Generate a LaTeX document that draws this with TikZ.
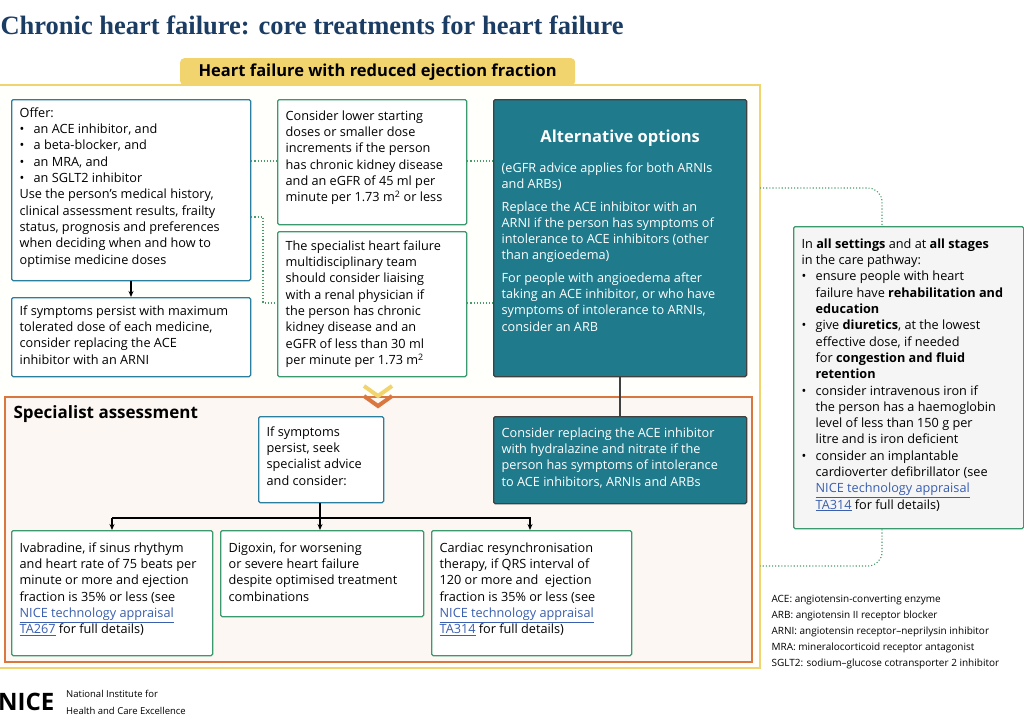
\documentclass[tikz,border=0pt]{standalone}
\usepackage{fontspec}
\setmainfont{Open Sans}
\newfontfamily\serifT{Liberation Serif}
\usetikzlibrary{arrows.meta}
\definecolor{bluebd}{HTML}{2A7F9E}
\definecolor{greenbd}{HTML}{3A9A6E}
\definecolor{teal}{HTML}{1F7A8C}
\definecolor{orangebd}{HTML}{D9773E}
\definecolor{yel}{HTML}{F2D46E}
\definecolor{titleblue}{HTML}{1B3C63}
\definecolor{linkc}{HTML}{3A5FAE}
\definecolor{dotg}{HTML}{4A9A6A}
\newcommand\bxt[3]{\parbox[c][#2pt][t]{#1pt}{\raggedright #3}}
\newcommand\bl{\makebox[14pt][l]{•}}
\newcommand\ind{\hspace*{14pt}}
\newcommand\lnk[1]{\textcolor{linkc}{\underline{#1}}}
\tikzset{
 x=1pt,y=-1pt,
 every node/.style={font=\fontsize{12.7}{16.3}\selectfont},
 box/.style={draw, line width=1.3pt, fill=white, inner xsep=8pt, inner ysep=8pt, anchor=north west, rounded corners=1.5pt},
 bbox/.style={box, draw=bluebd},
 gbox/.style={box, draw=greenbd},
 tbox/.style={box, draw=black!75, fill=teal, text=white},
 dotl/.style={dotg, line width=1.1pt, dotted},
 arr/.style={-{Stealth[length=6pt,width=5pt]}, line width=1.1pt}
}
\begin{document}
\begin{tikzpicture}
\useasboundingbox (0,0) rectangle (1024,725);
\node[anchor=west, text=titleblue, font=\serifT\bfseries\fontsize{26.5}{29}\selectfont] (title) at (-3,25) {Chronic heart failure: core treatments for heart failure};
% yellow frame
\draw[yel, line width=1.5pt, fill=white!97!yellow!50] (-4,85) rectangle (760,668);
\coordinate (fr1) at (760,188);
\coordinate (fr2) at (760,566);
\node[fill=yel, rounded corners=4pt, anchor=north west, minimum width=395, minimum height=27, font=\bfseries\fontsize{16.5}{19}\selectfont] (tab) at (180,58) {Heart failure with reduced ejection fraction};
% specialist frame
\draw[orangebd, line width=1.3pt, fill=orangebd!6] (5,397) rectangle (752,662);
\node[anchor=west, font=\bfseries\fontsize{17}{20}\selectfont] (spec) at (10,414) {Specialist assessment};
% chevron
\draw[yel, line width=4pt] (364,386) -- (378,396) -- (392,386);
\draw[orangebd, line width=4pt] (364,396) -- (378,406) -- (392,396);
% boxes
\node[bbox] (A) at (11,99) {\bxt{223}{165}{Offer:\\
\bl an ACE inhibitor, and\\
\bl a beta-blocker, and\\
\bl an MRA, and\\
\bl an SGLT2 inhibitor\\
Use the person’s medical history,\\ clinical assessment results, frailty\\ status, prognosis and preferences\\ when deciding when and how to\\ optimise medicine doses}};
\node[bbox] (B) at (11,297) {\bxt{223}{63}{If symptoms persist with maximum\\ tolerated dose of each medicine,\\ consider replacing the ACE\\ inhibitor with an ARNI}};
\node[gbox] (C) at (277,99) {\bxt{173}{109}{\vspace*{3pt}Consider lower starting\\ doses or smaller dose\\ increments if the person\\ has chronic kidney disease\\ and an eGFR of 45 ml per\\ minute per 1.73 m\textsuperscript{2} or less}};
\node[gbox] (D) at (277,231) {\bxt{173}{129}{\vspace*{1pt}The specialist heart failure\\ multidisciplinary team\\ should consider liaising\\ with a renal physician if\\ the person has chronic\\ kidney disease and an\\ eGFR of less than 30 ml\\ per minute per 1.73 m\textsuperscript{2}}};
\node[tbox] (alt) at (493,99) {\bxt{237}{261}{\vspace*{22pt}\centerline{\bfseries\fontsize{16.5}{19}\selectfont Alternative options}\par\vspace{14pt}
(eGFR advice applies for both ARNIs\\ and ARBs)\par\vspace{6pt}
Replace the ACE inhibitor with an\\ ARNI if the person has symptoms of\\ intolerance to ACE inhibitors (other\\ than angioedema)\par\vspace{6pt}
For people with angioedema after\\ taking an ACE inhibitor, or who have\\ symptoms of intolerance to ARNIs,\\ consider an ARB}};
\node[tbox] (hyd) at (493,416) {\bxt{237}{71}{\vspace*{3pt}Consider replacing the ACE inhibitor\\ with hydralazine and nitrate if the\\ person has symptoms of intolerance\\ to ACE inhibitors, ARNIs and ARBs}};
\node[bbox] (sym) at (258,416) {\bxt{109}{70}{\vspace*{2pt}If symptoms\\ persist, seek\\ specialist advice\\ and consider:}};
\node[gbox] (E) at (11,530) {\bxt{185}{109}{\vspace*{4pt}Ivabradine, if sinus rhythym\\ and heart rate of 75 beats per\\ minute or more and ejection\\ fraction is 35\% or less (see\\ \lnk{NICE technology appraisal}\\ \lnk{TA267} for full details)}};
\node[gbox] (F) at (220,530) {\bxt{187}{70}{\vspace*{4pt}Digoxin, for worsening\\ or severe heart failure\\ despite optimised treatment\\ combinations}};
\node[gbox] (G) at (431,530) {\bxt{184}{109}{\vspace*{4pt}Cardiac resynchronisation\\ therapy, if QRS interval of\\ 120 or more and\ \ ejection\\ fraction is 35\% or less (see\\ \lnk{NICE technology appraisal}\\ \lnk{TA314} for full details)}};
\node[box, draw=greenbd, fill=black!4] (R) at (793,226) {\bxt{214}{286}{\vspace*{4pt}In \textbf{all settings} and at \textbf{all stages}\\ in the care pathway:\\
\bl ensure people with heart\\ \ind failure have \textbf{rehabilitation and}\\ \ind \textbf{education}\\
\bl give \textbf{diuretics}, at the lowest\\ \ind effective dose, if needed\\ \ind for \textbf{congestion and fluid}\\ \ind \textbf{retention}\\
\bl consider intravenous iron if\\ \ind the person has a haemoglobin\\ \ind level of less than 150 g per\\ \ind litre and is iron deficient\\
\bl consider an implantable\\ \ind cardioverter defibrillator (see\\ \ind \lnk{NICE technology appraisal}\\ \ind \lnk{TA314} for full details)}};
% connectors
\draw[arr] (A.south -| 131,0) -- (B.north -| 131,0);
\draw[dotl] (A.east |- 0,161) -- (C.west |- 0,161);
\draw[dotl] (A.east |- 0,217) -- (263,217) -- (263,303) -- (D.west |- 0,303);
\draw[dotl] (C.east |- 0,161) -- (alt.west |- 0,161);
\draw[dotl] (D.east |- 0,303) -- (alt.west |- 0,303);
\draw[black!75, line width=2pt] (alt.south -| 620,0) -- (hyd.north -| 620,0);
\draw[line width=1.1pt] (sym.south -| 320,0) -- (320,518);
\draw[arr] (112,518) -- (E.north -| 112,0);
\draw[arr] (112,518) -- (530,518) -- (G.north -| 530,0);
\draw[arr] (320,518) -- (F.north -| 320,0);
\draw[dotl, rounded corners=14pt] (fr1) -- (882,188) -- (R.north -| 882,0);
\draw[dotl, rounded corners=14pt] (R.south -| 882,0) -- (882,566) -- (fr2);
% abbreviations
\node[anchor=north west, align=left, font=\fontsize{10}{16}\selectfont] (abbr) at (768,592) {ACE: angiotensin-converting enzyme\\ ARB: angiotensin II receptor blocker\\ ARNI: angiotensin receptor–neprilysin inhibitor\\ MRA: mineralocorticoid receptor antagonist\\ SGLT2: sodium–glucose cotransporter 2 inhibitor};
% logo
\node[anchor=west, font=\bfseries\fontsize{24}{26}\selectfont, inner sep=0] (nice) at (-2,702) {NICE};
\node[anchor=west, font=\fontsize{9.5}{11}\selectfont, inner sep=0] (nicet1) at (66,694) {National Institute for};
\node[anchor=west, font=\fontsize{9.5}{11}\selectfont, inner sep=0] (nicet2) at (66,711) {Health and Care Excellence};
\end{tikzpicture}
\end{document}
